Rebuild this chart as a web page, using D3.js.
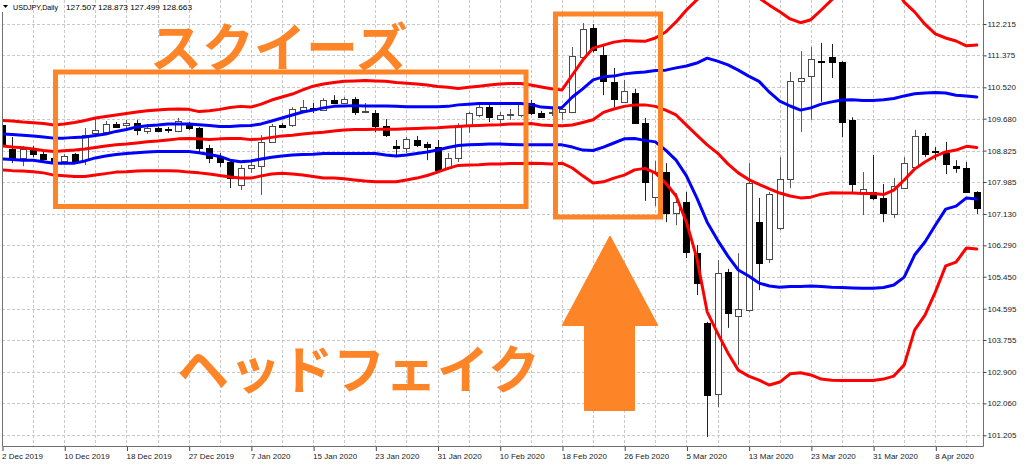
<!DOCTYPE html>
<html><head><meta charset="utf-8">
<script src="https://cdn.jsdelivr.net/npm/d3@7"></script>
<style>html,body{margin:0;padding:0;background:#fff;overflow:hidden}</style>
</head><body>
<svg id="c" width="1024" height="464"></svg>
<script>
const symbolTitle = "USDJPY,Daily";
const headerValues = "127.507 128.873 127.499 128.663";

const dates = [
"2019-12-02","2019-12-03","2019-12-04","2019-12-05","2019-12-06","2019-12-09","2019-12-10","2019-12-11","2019-12-12","2019-12-13",
"2019-12-16","2019-12-17","2019-12-18","2019-12-19","2019-12-20","2019-12-23","2019-12-24","2019-12-26","2019-12-27","2019-12-30",
"2019-12-31","2020-01-02","2020-01-03","2020-01-06","2020-01-07","2020-01-08","2020-01-09","2020-01-10","2020-01-13","2020-01-14",
"2020-01-15","2020-01-16","2020-01-17","2020-01-20","2020-01-21","2020-01-22","2020-01-23","2020-01-24","2020-01-27","2020-01-28",
"2020-01-29","2020-01-30","2020-01-31","2020-02-03","2020-02-04","2020-02-05","2020-02-06","2020-02-07","2020-02-10","2020-02-11",
"2020-02-12","2020-02-13","2020-02-14","2020-02-17","2020-02-18","2020-02-19","2020-02-20","2020-02-21","2020-02-24","2020-02-25",
"2020-02-26","2020-02-27","2020-02-28","2020-03-02","2020-03-03","2020-03-04","2020-03-05","2020-03-06","2020-03-09","2020-03-10",
"2020-03-11","2020-03-12","2020-03-13","2020-03-16","2020-03-17","2020-03-18","2020-03-19","2020-03-20","2020-03-23","2020-03-24",
"2020-03-25","2020-03-26","2020-03-27","2020-03-30","2020-03-31","2020-04-01","2020-04-02","2020-04-03","2020-04-06","2020-04-07",
"2020-04-08","2020-04-09","2020-04-10","2020-04-13","2020-04-14"];

const open = [109.51,108.87,108.63,108.84,108.73,108.63,108.55,108.73,108.57,109.30,
109.32,109.54,109.51,109.56,109.35,109.43,109.40,109.35,109.51,109.43,
108.90,108.65,108.52,107.91,108.36,108.41,109.06,109.51,109.51,109.91,
109.97,109.91,110.18,110.10,110.21,109.86,109.83,109.49,108.95,108.90,
109.11,109.00,108.92,108.36,108.63,109.51,109.78,109.99,109.67,109.78,
109.78,110.10,109.83,109.83,109.86,109.86,111.33,112.11,111.38,110.66,
110.13,110.37,109.56,107.58,108.25,107.16,107.45,106.08,104.21,102.31,
105.58,104.40,104.56,106.91,105.92,106.75,108.07,110.69,110.82,111.23,
111.33,111.20,109.65,107.69,107.72,107.56,107.13,107.82,108.39,109.22,
108.82,108.76,108.41,108.36,107.72];
const high = [109.70,109.19,108.95,108.95,108.84,108.68,108.73,108.76,109.43,109.70,
109.62,109.59,109.65,109.65,109.54,109.46,109.46,109.70,109.59,109.46,
108.98,108.76,108.57,108.44,108.60,109.24,109.54,109.56,109.99,110.18,
110.10,110.23,110.31,110.26,110.26,110.10,109.91,109.67,109.11,109.19,
109.22,109.06,109.11,108.76,109.56,109.86,110.05,110.05,109.86,109.94,
110.13,110.18,109.89,109.97,109.99,111.60,112.24,112.21,111.65,111.04,
110.72,110.48,109.70,108.55,108.49,107.69,107.72,106.30,104.24,105.90,
105.66,106.08,108.49,107.56,107.72,108.65,110.93,111.49,111.60,111.71,
111.68,111.22,109.72,108.25,108.71,107.93,108.09,108.65,109.38,109.30,
108.92,109.06,108.57,108.52,107.74];
const low = [108.90,108.49,108.41,108.65,108.52,108.49,108.52,108.49,108.44,109.24,
109.27,109.43,109.43,109.24,109.27,109.32,109.30,109.32,109.38,108.76,
108.49,108.39,107.82,107.77,108.23,107.64,109.03,109.43,109.46,109.86,
109.83,109.89,110.07,110.07,109.78,109.83,109.32,109.19,108.71,108.76,
108.92,108.57,108.28,108.31,108.52,109.30,109.72,109.59,109.56,109.65,
109.72,109.78,109.70,109.75,109.65,109.83,111.30,111.45,110.31,109.99,
110.10,109.54,107.48,107.34,106.91,106.83,105.95,104.96,101.16,101.96,
104.08,103.09,104.51,105.09,105.82,106.70,107.82,109.32,109.65,110.13,
110.77,109.19,107.69,107.10,107.50,106.91,107.02,107.80,108.36,108.65,
108.57,108.20,108.23,107.69,107.13];
const close = [108.98,108.63,108.87,108.73,108.60,108.55,108.68,108.52,109.24,109.38,
109.54,109.46,109.56,109.38,109.43,109.35,109.38,109.62,109.43,108.90,
108.63,108.52,108.09,108.36,108.44,109.06,109.49,109.46,109.94,109.99,
109.91,110.18,110.10,110.21,109.86,109.89,109.49,109.24,108.90,109.14,
108.98,108.92,108.31,108.63,109.51,109.83,109.99,109.72,109.78,109.81,
110.10,109.83,109.72,109.86,109.94,111.36,112.08,111.52,110.69,110.21,
110.42,109.56,107.99,108.25,107.16,107.45,106.11,105.28,102.28,105.55,
104.48,104.59,107.96,105.82,107.66,108.07,110.69,110.77,111.28,111.20,
111.20,109.59,107.93,107.80,107.56,107.16,107.88,108.49,109.22,108.73,
108.79,108.47,108.36,107.72,107.29];

const bandUpper2 = [109.63,109.62,109.59,109.57,109.55,109.51,109.54,109.58,109.63,109.70,
109.74,109.78,109.82,109.86,109.89,109.91,109.93,109.94,109.93,109.87,
109.89,109.93,109.98,110.01,109.99,110.07,110.18,110.26,110.34,110.45,
110.55,110.61,110.65,110.68,110.69,110.70,110.69,110.68,110.65,110.63,
110.61,110.58,110.54,110.52,110.49,110.52,110.55,110.58,110.61,110.62,
110.62,110.58,110.53,110.48,110.45,110.85,111.25,111.57,111.65,111.73,
111.77,111.76,111.75,111.84,112.00,112.27,112.59,112.86,113.07,113.23,
113.29,113.18,113.02,112.91,112.72,112.54,112.35,112.25,112.33,112.59,
112.86,113.12,113.39,113.53,113.53,113.45,113.26,112.80,112.54,112.21,
111.95,111.84,111.76,111.63,111.65];
const bandUpper1 = [109.27,109.26,109.24,109.22,109.19,109.16,109.16,109.18,109.19,109.23,
109.27,109.34,109.39,109.46,109.49,109.51,109.54,109.54,109.54,109.52,
109.50,109.47,109.47,109.49,109.50,109.54,109.62,109.70,109.78,109.86,
109.91,109.97,110.01,110.02,110.03,110.02,110.02,110.02,110.01,110.00,
110.00,110.00,110.00,110.01,110.05,110.07,110.09,110.09,110.09,110.09,
110.09,110.06,109.99,109.97,109.98,110.26,110.48,110.72,110.80,110.82,
110.88,110.91,110.93,110.97,110.98,111.04,111.09,111.17,111.30,111.22,
111.12,110.98,110.82,110.68,110.39,110.15,110.02,109.91,109.97,110.07,
110.13,110.18,110.19,110.17,110.17,110.19,110.22,110.29,110.35,110.37,
110.38,110.37,110.31,110.29,110.26];
const bandMiddle = [108.95,108.92,108.90,108.87,108.83,108.80,108.82,108.84,108.87,108.91,
108.95,108.98,109.00,109.03,109.06,109.08,109.11,109.14,109.15,109.14,
109.12,109.14,109.15,109.15,109.12,109.14,109.18,109.22,109.24,109.27,
109.30,109.32,109.35,109.38,109.39,109.39,109.40,109.40,109.40,109.41,
109.42,109.43,109.44,109.46,109.47,109.49,109.50,109.51,109.52,109.54,
109.54,109.55,109.51,109.50,109.49,109.51,109.58,109.65,109.85,109.94,
110.01,110.05,110.05,110.01,109.91,109.78,109.51,109.24,108.98,108.76,
108.47,108.23,108.05,107.92,107.80,107.69,107.61,107.56,107.58,107.66,
107.70,107.69,107.69,107.68,107.68,107.65,107.77,108.04,108.33,108.52,
108.68,108.79,108.84,108.94,108.91];
const bandLower1 = [108.60,108.59,108.57,108.57,108.53,108.49,108.49,108.49,108.55,108.63,
108.68,108.72,108.75,108.77,108.79,108.80,108.80,108.80,108.80,108.77,
108.72,108.67,108.57,108.53,108.55,108.60,108.65,108.68,108.71,108.72,
108.73,108.75,108.75,108.75,108.75,108.75,108.75,108.71,108.68,108.71,
108.75,108.79,108.84,108.91,108.96,108.98,108.99,109.00,109.00,108.99,
108.98,108.98,108.98,108.98,108.98,108.92,108.84,108.83,108.92,109.03,
109.14,109.15,109.10,109.06,108.84,108.57,108.15,107.56,106.91,106.43,
106.00,105.63,105.47,105.28,105.20,105.17,105.19,105.19,105.20,105.19,
105.17,105.16,105.15,105.14,105.14,105.16,105.23,105.44,106.03,106.38,
106.83,107.26,107.34,107.56,107.53];
const bandLower2 = [108.31,108.29,108.28,108.26,108.23,108.17,108.15,108.13,108.13,108.17,
108.21,108.25,108.26,108.28,108.29,108.29,108.29,108.28,108.25,108.23,
108.20,108.16,108.12,108.09,108.09,108.15,108.20,108.22,108.20,108.17,
108.13,108.09,108.09,108.07,108.04,108.01,107.99,107.99,107.99,108.04,
108.09,108.16,108.25,108.35,108.43,108.44,108.45,108.47,108.47,108.48,
108.48,108.49,108.48,108.47,108.49,108.36,108.15,107.96,107.99,108.09,
108.17,108.31,108.35,108.23,107.96,107.61,106.91,105.95,104.51,103.94,
103.41,102.95,102.79,102.68,102.55,102.63,102.85,102.88,102.82,102.71,
102.68,102.67,102.67,102.67,102.67,102.71,102.79,103.09,104.02,104.42,
105.04,105.74,105.84,106.22,106.19];

const priceTicks = [112.215,111.375,110.520,109.680,108.825,107.985,107.130,106.290,105.450,104.595,103.755,102.900,102.060,101.205];
const dateTickIndex = [0,6,12,18,24,30,36,42,48,54,60,66,72,78,84,90];
const dateTickLabels = ["2 Dec 2019","10 Dec 2019","18 Dec 2019","27 Dec 2019","7 Jan 2020","15 Jan 2020","23 Jan 2020","31 Jan 2020","10 Feb 2020","18 Feb 2020","26 Feb 2020","5 Mar 2020","13 Mar 2020","23 Mar 2020","31 Mar 2020","8 Apr 2020"];

const squeezeLabel = "スクイーズ";
const headFakeLabel = "ヘッドフェイク";

// ---------- drawing ----------
const svg = d3.select("#c");
const W = 1024, H = 464;
const L = 2, R = 983, T = 0, B = 447;
const ORANGE = "#fe8428";
const FONT = "'Liberation Sans', Arial, sans-serif";

svg.append("rect").attr("width", W).attr("height", H).attr("fill", "#fff");

const x = d3.scaleLinear().domain([0, dates.length - 1]).range([2, 976.8]);
const y = d3.scaleLinear().domain([101.205, 112.215]).range([435.3, 24]);

const defs = svg.append("defs");
defs.append("clipPath").attr("id", "plot").append("rect")
  .attr("x", L + 1).attr("y", T).attr("width", R - L - 1).attr("height", B - T);

// grid
const grid = svg.append("g").attr("stroke", "#c9c9c9").attr("stroke-dasharray", "3,2").attr("stroke-width", 1);
priceTicks.forEach(p => {
  const yy = Math.round(y(p)) + 0.5;
  grid.append("line").attr("x1", L).attr("x2", R).attr("y1", yy).attr("y2", yy);
});
for (let i = 3; i < dates.length; i += 3) {
  const xx = Math.round(x(i)) + 0.5;
  grid.append("line").attr("x1", xx).attr("x2", xx).attr("y1", T).attr("y2", B);
}

// candles
const cg = svg.append("g").attr("clip-path", "url(#plot)");
dates.forEach((d, i) => {
  const cx = Math.round(x(i));
  const bull = close[i] >= open[i];
  cg.append("line")
    .attr("x1", cx + 0.5).attr("x2", cx + 0.5)
    .attr("y1", y(high[i])).attr("y2", y(low[i]))
    .attr("stroke", bull ? "#5a5a5a" : "#222").attr("stroke-width", 1);
  const top = Math.round(y(Math.max(open[i], close[i])));
  const bot = Math.round(y(Math.min(open[i], close[i])));
  cg.append("rect")
    .attr("x", cx - 3 + 0.5).attr("y", top + 0.5)
    .attr("width", 6).attr("height", Math.max(1, bot - top))
    .attr("fill", bull ? "#fff" : "#000")
    .attr("stroke", bull ? "#4a4a4a" : "#000").attr("stroke-width", 1);
});

// bands
const line = d3.line().x((d, i) => x(i)).y(d => y(d));
const bands = [
  [bandUpper2, "#ff0000"], [bandUpper1, "#0000ff"], [bandMiddle, "#ff0000"],
  [bandLower1, "#0000ff"], [bandLower2, "#ff0000"]
];
const bg = svg.append("g").attr("clip-path", "url(#plot)");
bands.forEach(([arr, col]) => {
  bg.append("path").datum(arr).attr("d", line)
    .attr("fill", "none").attr("stroke", col).attr("stroke-width", 3)
    .attr("stroke-linejoin", "round").attr("stroke-linecap", "round");
});

// frame
svg.append("path")
  .attr("d", `M${L + 0.5},12 V${B - 0.5} H${R + 0.5} V0`)
  .attr("fill", "none").attr("stroke", "#707070").attr("stroke-width", 1);

// axes
const ay = svg.append("g").attr("transform", `translate(${R + 0.5},0)`)
  .call(d3.axisRight(y).tickValues(priceTicks).tickFormat(d3.format(".3f")).tickSize(3).tickPadding(1));
ay.select(".domain").remove();
ay.selectAll(".tick line").attr("stroke", "#444");
ay.selectAll("text").attr("font-family", FONT).attr("font-size", 8).attr("fill", "#222");

const ax = svg.append("g").attr("transform", `translate(0.5,${B})`)
  .call(d3.axisBottom(x).tickValues(dateTickIndex).tickFormat((d, i) => dateTickLabels[i]).tickSize(4).tickPadding(2));
ax.select(".domain").remove();
ax.selectAll(".tick line").attr("stroke", "#444");
ax.selectAll("text").attr("font-family", FONT).attr("font-size", 8).attr("fill", "#222")
  .attr("text-anchor", "start").attr("x", -1);

// header
svg.append("path").attr("d", "M3,5 L8,5 L5.5,8 Z").attr("fill", "#000");
svg.append("text").attr("x", 13).attr("y", 10).attr("font-family", FONT).attr("font-size", 7.5)
  .attr("textLength", 45).attr("lengthAdjust", "spacingAndGlyphs")
  .attr("fill", "#000").text(symbolTitle);
svg.append("text").attr("x", 66).attr("y", 10).attr("font-family", FONT).attr("font-size", 8)
  .attr("textLength", 126).attr("lengthAdjust", "spacingAndGlyphs")
  .attr("fill", "#000").text(headerValues);

// annotations
const ann = svg.append("g");
ann.append("rect").attr("x", 55.5).attr("y", 72).attr("width", 470.5).attr("height", 134.5)
  .attr("fill", "none").attr("stroke", ORANGE).attr("stroke-width", 5);
ann.append("rect").attr("x", 555.5).attr("y", 14).attr("width", 105).attr("height", 203)
  .attr("fill", "none").attr("stroke", ORANGE).attr("stroke-width", 5);
ann.append("path")
  .attr("d", "M610,237 L657,325 L634,325 L634,410 L585,410 L585,325 L563,325 Z")
  .attr("fill", ORANGE).attr("stroke", ORANGE).attr("stroke-width", 2).attr("stroke-linejoin", "round");
ann.append("text").attr("x", 150).attr("y", 67)
  .attr("font-family", "'Noto Sans CJK JP', sans-serif").attr("font-weight", 700).attr("font-size", 52)
  .attr("fill", ORANGE).text(squeezeLabel);
ann.append("text").attr("x", 177).attr("y", 389)
  .attr("font-family", "'Noto Sans CJK JP', sans-serif").attr("font-weight", 700).attr("font-size", 52)
  .attr("fill", ORANGE).text(headFakeLabel);
</script>
</body></html>
